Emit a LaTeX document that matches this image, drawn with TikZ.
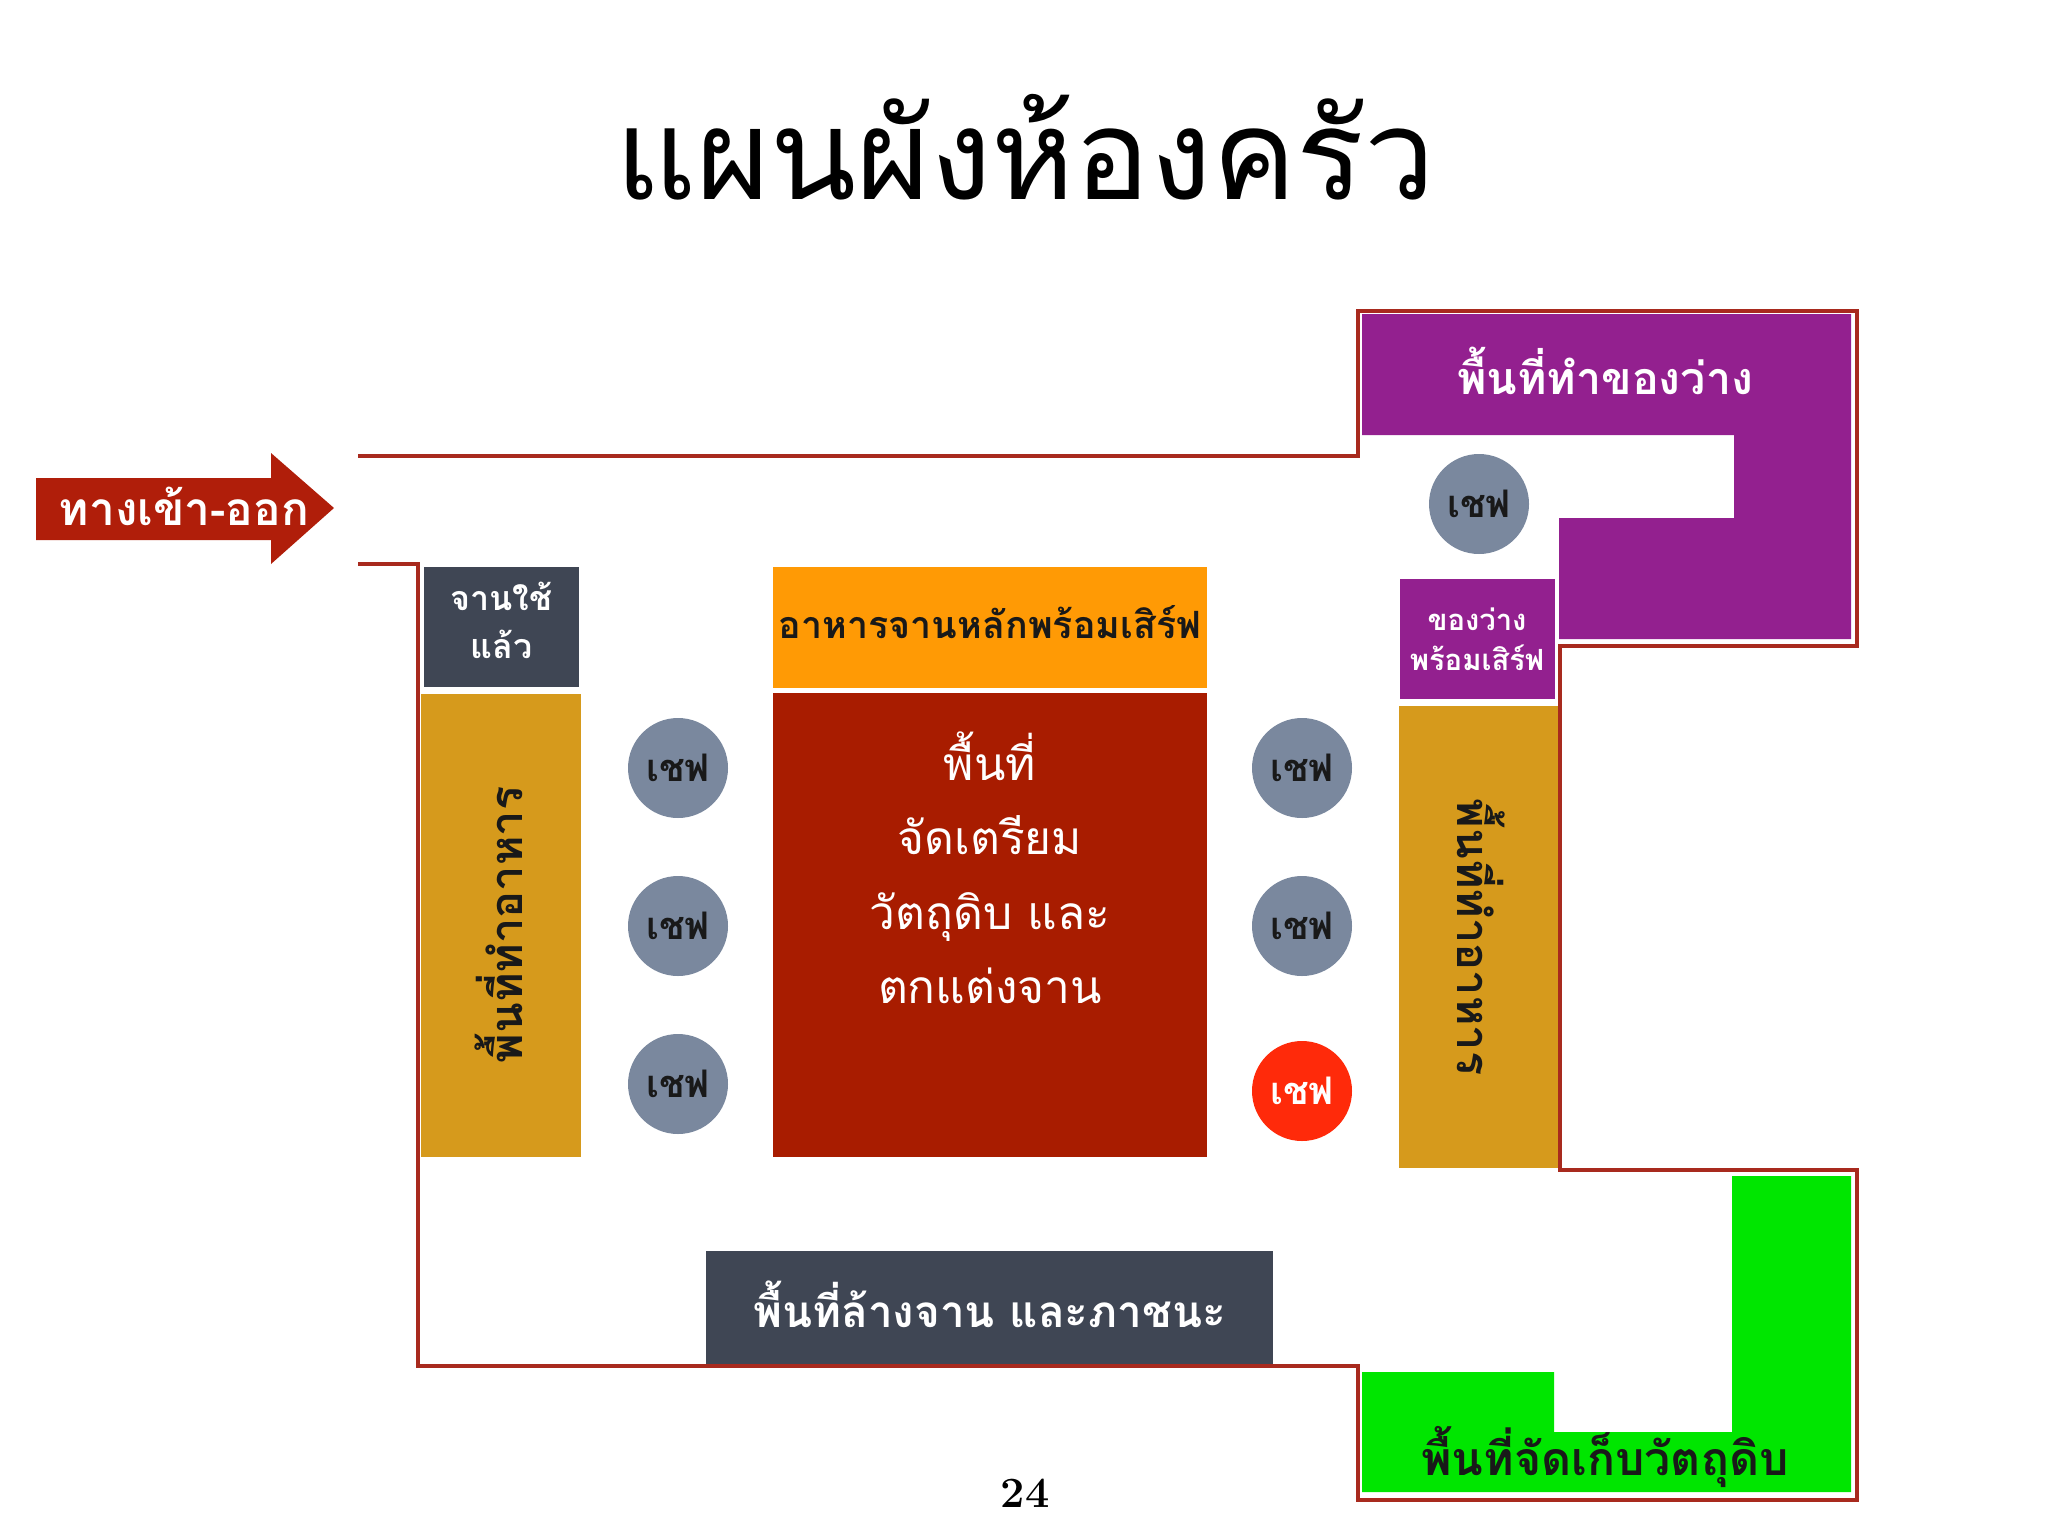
\documentclass[tikz,border=0pt]{standalone}
\usepackage{fontspec}
\newfontfamily\thaifont[Script=Thai]{Loma}
\definecolor{wallred}{HTML}{A82A1E}
\definecolor{arrowred}{HTML}{B01E0A}
\definecolor{prepred}{HTML}{A81C00}
\definecolor{slate}{HTML}{3F4654}
\definecolor{gold}{HTML}{D69A1C}
\definecolor{amber}{HTML}{FF9A05}
\definecolor{snackpurple}{HTML}{93208F}
\definecolor{storegreen}{HTML}{00E600}
\definecolor{chefgrey}{HTML}{7A889E}
\definecolor{chefred}{HTML}{FF2A0A}
\begin{document}
\begin{tikzpicture}[x=0.5pt, y=-0.5pt]
      \tikzstyle{zone}=[draw=none, inner sep=0pt, align=center, font=\thaifont\bfseries]
      \tikzstyle{chef}=[shape=circle, fill=chefgrey, minimum size=50pt, inner sep=0pt, font=\thaifont\bfseries\fontsize{19}{22}\selectfont, text=black!90]
      \tikzstyle{wall}=[draw=wallred, line width=2pt, line join=miter]
      \useasboundingbox (0,0) rectangle (2048,1536);

      % draw title

      \node [font=\thaifont\fontsize{63}{70}\selectfont] (title) at (1025,147) {แผนผังห้องครัว};

      % draw areas

      \fill [snackpurple] (1362,314) -- (1851,314) -- (1851,639) -- (1559,639) -- (1559,518) -- (1734,518) -- (1734,435) -- (1362,435) -- cycle;
      \fill [storegreen] (1732,1176) -- (1851,1176) -- (1851,1492) -- (1362,1492) -- (1362,1372) -- (1554,1372) -- (1554,1432) -- (1732,1432) -- cycle;

      \node [zone, fill=slate, text=white, minimum width=77.5pt, minimum height=60pt, font=\thaifont\bfseries\fontsize{17}{24}\selectfont] (used) at (501.5,627) {\raisebox{7pt}{จานใช้}\\\raisebox{7pt}{แล้ว}};
      \node [zone, fill=gold, rotate=90, minimum width=231.5pt, minimum height=80pt, text=black!90, font=\thaifont\bfseries\fontsize{22.5}{26}\selectfont] (cookleft) at (501,925) {\raisebox{2pt}{พื้นที่ทำอาหาร}};
      \node [zone, fill=amber, text=black!90, minimum width=217pt, minimum height=60.5pt, font=\thaifont\bfseries\fontsize{18.8}{22}\selectfont] (main) at (990,627.5) {\raisebox{5.5pt}{อาหารจานหลักพร้อมเสิร์ฟ}};
      \node [zone, fill=prepred, minimum width=217pt, minimum height=232pt] (prep) at (990,925) {};
      \node [zone, fill=slate, text=white, minimum width=283.5pt, minimum height=57pt, font=\thaifont\bfseries\fontsize{22}{26}\selectfont] (wash) at (989.5,1308) {\raisebox{4pt}{พื้นที่ล้างจาน และภาชนะ}};
      \node [zone, fill=snackpurple, text=white, minimum width=77.5pt, minimum height=60pt, font=\thaifont\bfseries\fontsize{14.6}{20}\selectfont] (snack) at (1477,639) {ของว่าง\\พร้อมเสิร์ฟ};
      \node [zone, fill=gold, rotate=-90, minimum width=231pt, minimum height=80.5pt, text=black!90, font=\thaifont\bfseries\fontsize{22.5}{26}\selectfont] (cookright) at (1479.5,937) {\raisebox{2pt}{พื้นที่ทำอาหาร}};

      % draw text

      \foreach \l [count=\y] in {พื้นที่, จัดเตรียม, วัตถุดิบ และ, ตกแต่งจาน}
      \node [anchor=base, text=white, font=\thaifont\fontsize{23}{26}\selectfont] (prep-\y) at (990,705.5+\y*74.5) {\l};

      \node [text=white, font=\thaifont\bfseries\fontsize{22.4}{26}\selectfont] (snackarea) at (1605,371) {พื้นที่ทำของว่าง};
      \node [text=black!90, font=\thaifont\bfseries\fontsize{23.2}{26}\selectfont] (storearea) at (1605,1457) {พื้นที่จัดเก็บวัตถุดิบ};
      \node [font=\bfseries\fontsize{21.6}{24}\selectfont] (page) at (1025,1493) {24};

      % draw entrance

      \fill [arrowred] (36,478) -- (271,478) -- (271,453) -- (334,508) -- (271,564) -- (271,540) -- (36,540) -- cycle;
      \node [text=white, font=\thaifont\bfseries\fontsize{23}{26}\selectfont] (entrance) at (184,506) {ทางเข้า-ออก};

      % draw chefs

      \foreach \x/\y [count=\i] in {678/768, 678/926, 678/1084, 1302/768, 1302/926}
      \node [chef] (chef-\i) at (\x,\y) {เชฟ};
      \node [chef] (chef-6) at (1479,504) {เชฟ};
      \node [chef, fill=chefred, text=white] (chef-7) at (1302,1091) {เชฟ};

      % draw walls

      \draw [wall] (358,456) -- (1358,456) -- (1358,311) -- (1857,311) -- (1857,646) -- (1560,646) -- (1560,1170) -- (1857,1170) -- (1857,1500) -- (1358,1500) -- (1358,1366) -- (418,1366) -- (418,564) -- (358,564);

    \end{tikzpicture}
\end{document}
